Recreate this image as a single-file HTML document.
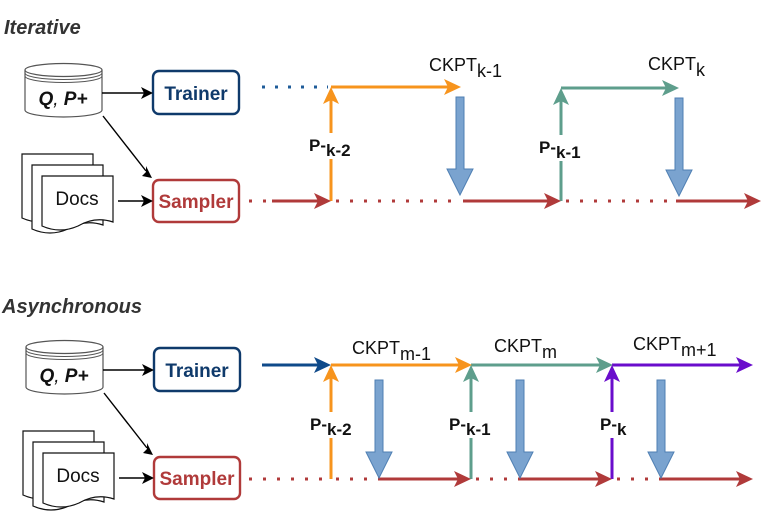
<!DOCTYPE html>
<html><head><meta charset="utf-8"><style>
html,body{margin:0;padding:0;background:#fff;width:780px;height:516px;overflow:hidden;}
svg{display:block;font-family:"Liberation Sans",sans-serif;}
</style></head><body>
<svg width="780" height="516" viewBox="0 0 780 516" xmlns="http://www.w3.org/2000/svg">
<g>
  <path d="M25,70 v40 a38.5,7 0 0 0 77,0 v-40" fill="#fff" stroke="#555" stroke-width="1.2"/>
  <ellipse cx="63.5" cy="70" rx="38.5" ry="6.5" fill="#fff" stroke="#555" stroke-width="1.2"/>
  <path d="M25,73 a38.5,6.5 0 0 0 77,0 M25,76 a38.5,6.5 0 0 0 77,0" fill="none" stroke="#555" stroke-width="1"/>
  <text x="63" y="105" font-size="19" font-weight="bold" font-style="italic" text-anchor="middle" fill="#111">Q<tspan font-weight="normal">, </tspan>P+</text>
  <path d="M22,154 h71 v60 q-18,-6 -35,4 q-18,8 -36,0 Z" fill="#fff" stroke="#111" stroke-width="1.2"/>
  <path d="M32,165 h71 v60 q-18,-6 -35,4 q-18,8 -36,0 Z" fill="#fff" stroke="#111" stroke-width="1.2"/>
  <path d="M42,176 h71 v46 q-18,-6 -35,4 q-18,8 -36,0 Z" fill="#fff" stroke="#111" stroke-width="1.2"/>
  <text x="77" y="205" font-size="19" text-anchor="middle" fill="#111">Docs</text>
  <rect x="153" y="71" width="86" height="43" rx="6" fill="#fff" stroke="#0f3a6b" stroke-width="2.4"/>
  <text x="196" y="100" font-size="19" font-weight="bold" text-anchor="middle" fill="#0f3a6b">Trainer</text>
  <rect x="153" y="180" width="86" height="42" rx="6" fill="#fff" stroke="#b03a3a" stroke-width="2.4"/>
  <text x="196" y="208" font-size="19" font-weight="bold" text-anchor="middle" fill="#b03a3a">Sampler</text>
  <path d="M102,93 H144 M103,116 L146,171 M118,201 H144" stroke="#000" stroke-width="1.4" fill="none"/>
  <path d="M153,93 l-12,-6 l3,6 l-3,6 Z M152,178 l-6,-12 l0,6 l-4,4 Z M153,201 l-12,-6 l3,6 l-3,6 Z" fill="#000"/>
</g>
<g transform="translate(1,277)">
  <path d="M25,70 v40 a38.5,7 0 0 0 77,0 v-40" fill="#fff" stroke="#555" stroke-width="1.2"/>
  <ellipse cx="63.5" cy="70" rx="38.5" ry="6.5" fill="#fff" stroke="#555" stroke-width="1.2"/>
  <path d="M25,73 a38.5,6.5 0 0 0 77,0 M25,76 a38.5,6.5 0 0 0 77,0" fill="none" stroke="#555" stroke-width="1"/>
  <text x="63" y="105" font-size="19" font-weight="bold" font-style="italic" text-anchor="middle" fill="#111">Q<tspan font-weight="normal">, </tspan>P+</text>
  <path d="M22,154 h71 v60 q-18,-6 -35,4 q-18,8 -36,0 Z" fill="#fff" stroke="#111" stroke-width="1.2"/>
  <path d="M32,165 h71 v60 q-18,-6 -35,4 q-18,8 -36,0 Z" fill="#fff" stroke="#111" stroke-width="1.2"/>
  <path d="M42,176 h71 v46 q-18,-6 -35,4 q-18,8 -36,0 Z" fill="#fff" stroke="#111" stroke-width="1.2"/>
  <text x="77" y="205" font-size="19" text-anchor="middle" fill="#111">Docs</text>
  <rect x="153" y="71" width="86" height="43" rx="6" fill="#fff" stroke="#0f3a6b" stroke-width="2.4"/>
  <text x="196" y="100" font-size="19" font-weight="bold" text-anchor="middle" fill="#0f3a6b">Trainer</text>
  <rect x="153" y="180" width="86" height="42" rx="6" fill="#fff" stroke="#b03a3a" stroke-width="2.4"/>
  <text x="196" y="208" font-size="19" font-weight="bold" text-anchor="middle" fill="#b03a3a">Sampler</text>
  <path d="M102,93 H144 M103,116 L146,171 M118,201 H144" stroke="#000" stroke-width="1.4" fill="none"/>
  <path d="M153,93 l-12,-6 l3,6 l-3,6 Z M152,178 l-6,-12 l0,6 l-4,4 Z M153,201 l-12,-6 l3,6 l-3,6 Z" fill="#000"/>
</g>
<text x="4" y="34" font-size="20" font-weight="bold" font-style="italic" fill="#333">Iterative</text>
<text x="2" y="313" font-size="20" font-weight="bold" font-style="italic" fill="#333">Asynchronous</text>

<g stroke-width="3" fill="none">
<path d="M262,87 H328" stroke="#1f5c99" stroke-dasharray="3,10"/>
<path d="M249,201 H272 M336,201 H460 M566,201 H676" stroke="#b03a3a" stroke-dasharray="3,11"/>
<path d="M272,201 H320 M463,201 H550 M676,201 H750" stroke="#b03a3a"/>
<path d="M331,201 V98 M331,87 H450" stroke="#f7941d"/>
<path d="M561,201 V99 M561,88 H668" stroke="#5e9e8c"/>
<path d="M262,365 H320" stroke="#0f4a8a"/>
<path d="M249,479 H330 M336,479 H378 M476,479 H519 M617,479 H661" stroke="#b03a3a" stroke-dasharray="3,11"/>
<path d="M378,479 H460 M519,479 H601 M661,479 H742" stroke="#b03a3a"/>
<path d="M331,479 V376 M331,365 H461" stroke="#f7941d"/>
<path d="M471,479 V376 M471,365 H602" stroke="#5e9e8c"/>
<path d="M612,479 V376 M612,365 H742" stroke="#6a0dcc"/>
</g>
<g>
<path d="M331,201 l-17,-8 l4,8 l-4,8 Z M561,201 l-17,-8 l4,8 l-4,8 Z M761,201 l-17,-8 l4,8 l-4,8 Z" fill="#b03a3a"/>
<path d="M331,87 l-8,17 l8,-4 l8,4 Z M461,87 l-17,-8 l4,8 l-4,8 Z" fill="#f7941d"/>
<path d="M561,88 l-8,17 l8,-4 l8,4 Z M679,88 l-17,-8 l4,8 l-4,8 Z" fill="#5e9e8c"/>
<path d="M331,365 l-17,-8 l4,8 l-4,8 Z" fill="#0f4a8a"/>
<path d="M471,479 l-17,-8 l4,8 l-4,8 Z M612,479 l-17,-8 l4,8 l-4,8 Z M753,479 l-17,-8 l4,8 l-4,8 Z" fill="#b03a3a"/>
<path d="M331,365 l-8,17 l8,-4 l8,4 Z M472,365 l-17,-8 l4,8 l-4,8 Z" fill="#f7941d"/>
<path d="M471,365 l-8,17 l8,-4 l8,4 Z M613,365 l-17,-8 l4,8 l-4,8 Z" fill="#5e9e8c"/>
<path d="M612,365 l-8,17 l8,-4 l8,4 Z M753,365 l-17,-8 l4,8 l-4,8 Z" fill="#6a0dcc"/>
</g>
<g fill="#7aa3cf" stroke="#4f7fb3" stroke-width="1">
<path d="M456,97 h8 v72 h9 l-13,26 l-13,-26 h9 Z"/>
<path d="M675,98 h8 v72 h9 l-13,26 l-13,-26 h9 Z"/>
<path d="M375,380 h8 v72 h9 l-13,26 l-13,-26 h9 Z"/>
<path d="M516,380 h8 v72 h9 l-13,26 l-13,-26 h9 Z"/>
<path d="M657,380 h8 v72 h9 l-13,26 l-13,-26 h9 Z"/>
</g>
<g font-weight="bold" fill="#111" font-size="17">
<rect x="308" y="133" width="50" height="26" fill="#fff"/>
<text x="309" y="151">P-<tspan dy="5">k-2</tspan></text>
<rect x="538" y="135" width="50" height="26" fill="#fff"/>
<text x="539" y="153">P-<tspan dy="5">k-1</tspan></text>
<rect x="309" y="412" width="50" height="26" fill="#fff"/>
<text x="310" y="430">P-<tspan dy="5">k-2</tspan></text>
<rect x="448" y="412" width="50" height="26" fill="#fff"/>
<text x="449" y="430">P-<tspan dy="5">k-1</tspan></text>
<rect x="599" y="412" width="34" height="26" fill="#fff"/>
<text x="600" y="430">P-<tspan dy="5">k</tspan></text>
</g>
<g font-size="18" fill="#111">
<text x="429" y="71">CKPT<tspan dy="6">k-1</tspan></text>
<text x="648" y="70">CKPT<tspan dy="6">k</tspan></text>
<text x="352" y="354">CKPT<tspan dy="6">m-1</tspan></text>
<text x="494" y="352">CKPT<tspan dy="6">m</tspan></text>
<text x="633" y="350">CKPT<tspan dy="6">m+1</tspan></text>
</g>
</svg>
</body></html>
